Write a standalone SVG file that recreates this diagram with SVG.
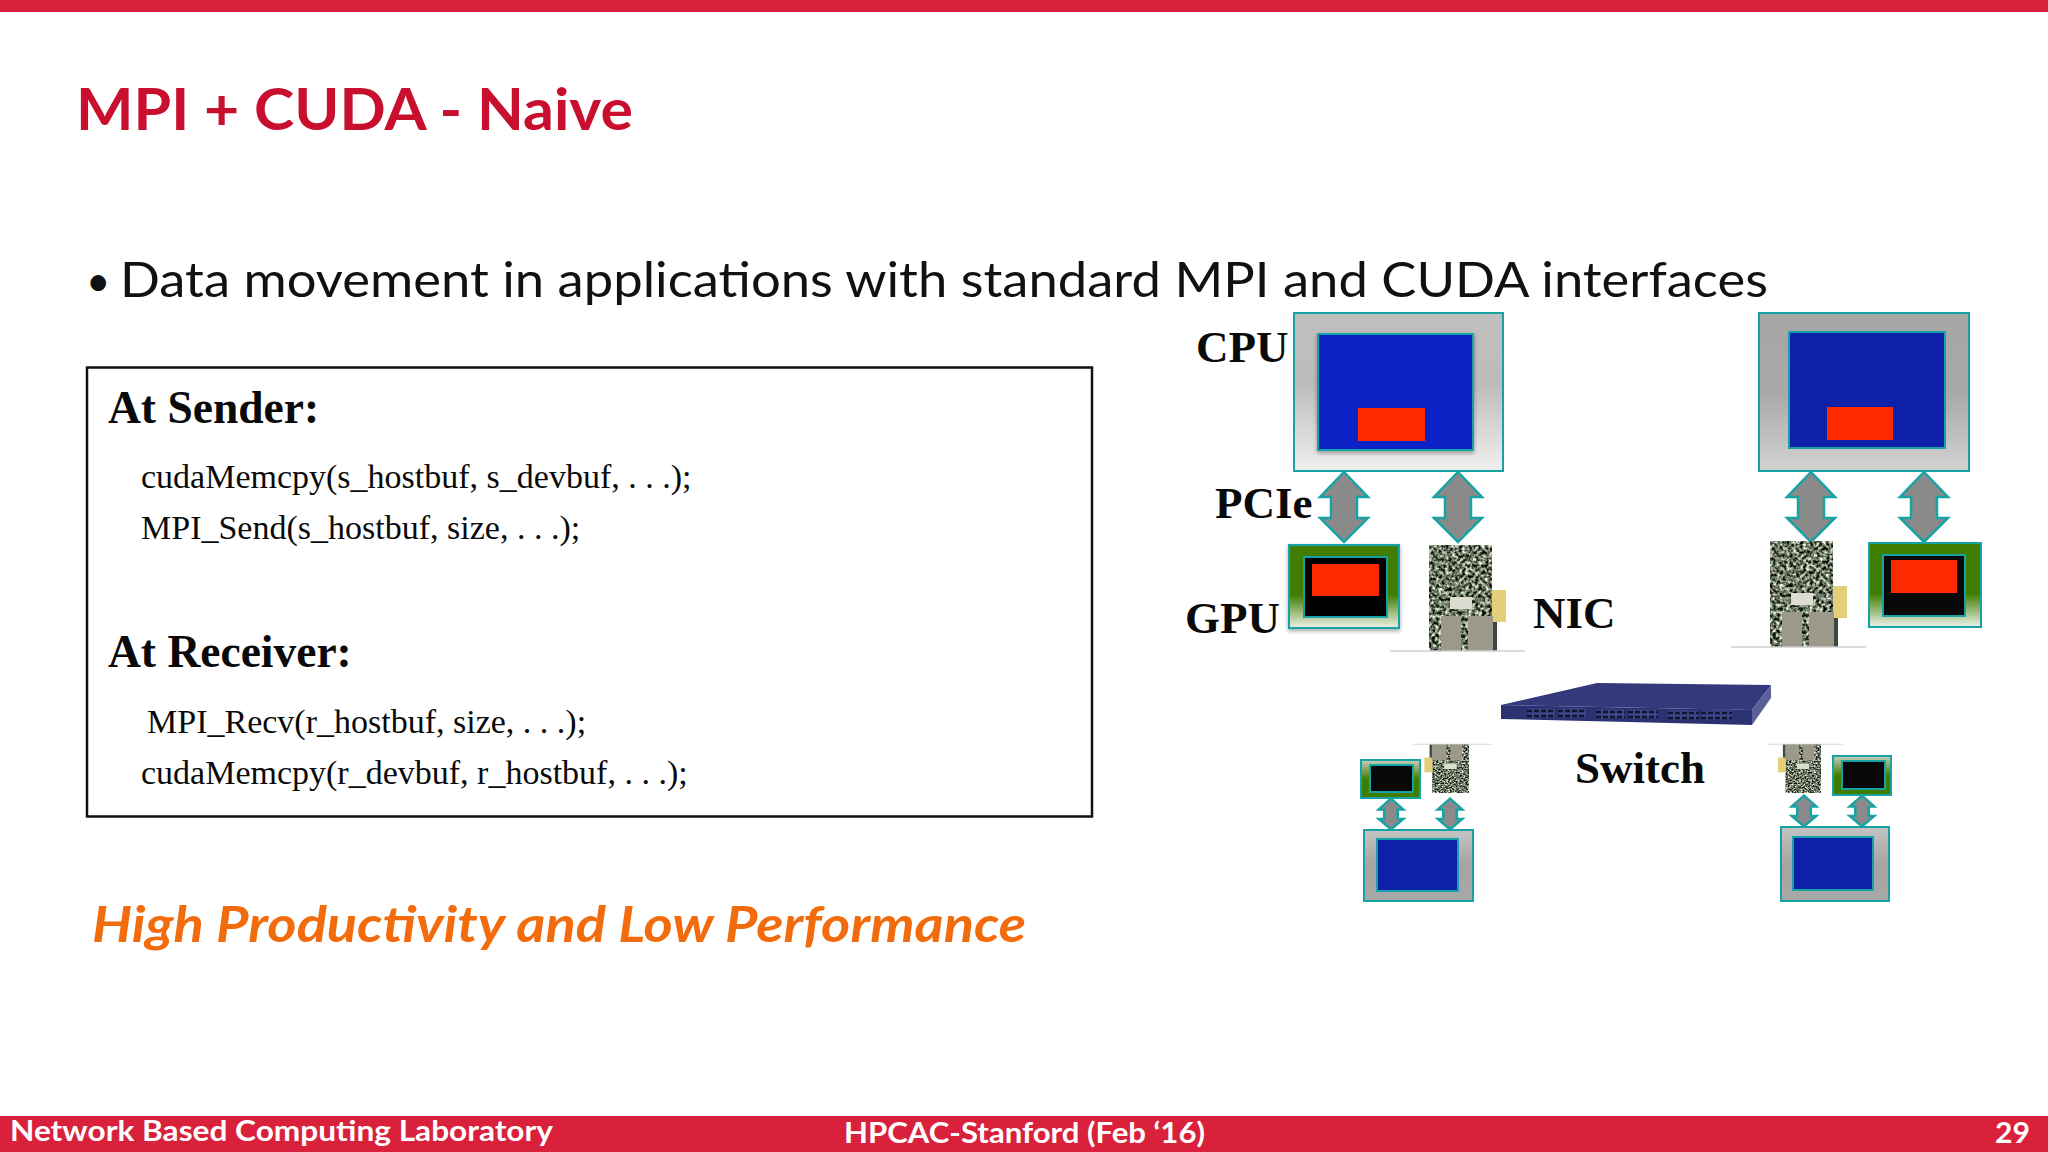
<svg xmlns="http://www.w3.org/2000/svg" width="2048" height="1152" viewBox="0 0 2048 1152">
<style>
.sl{font-family:Lato,"Noto Sans",sans-serif}
.tm{font-family:"Liberation Serif","Times New Roman",serif;fill:#0a0a0a}
.lb{font-weight:700;font-size:45px}
.hd{font-weight:700;font-size:45.5px}
.cd{font-size:34px}
.ft{fill:#fff;font-weight:700;font-size:29px}
.teal{stroke:#17a3a5;stroke-width:2}
.ar{fill:#8a8a8a;stroke:#17a3a5;stroke-width:2.5}
.ars{fill:#8a8a8a;stroke:#17a3a5;stroke-width:5}
.blue{fill:#0a24c4}
.blue2{fill:#0d20a8}
.red{fill:#ff2a00}
</style>
<defs>
<linearGradient id="cpuA" x1="0" y1="0" x2="0" y2="1"><stop offset="0" stop-color="#bfbfbf"/><stop offset=".45" stop-color="#bcbcbc"/><stop offset="1" stop-color="#f0f0f0"/></linearGradient>
<linearGradient id="cpuB" x1="0" y1="0" x2="0" y2="1"><stop offset="0" stop-color="#a6a6a6"/><stop offset=".5" stop-color="#a8a8a8"/><stop offset="1" stop-color="#d2d2d2"/></linearGradient>
<linearGradient id="cpuC" x1="0" y1="0" x2="0" y2="1"><stop offset="0" stop-color="#c4c4c4"/><stop offset=".5" stop-color="#a4a4a4"/><stop offset="1" stop-color="#a8a8a8"/></linearGradient>
<linearGradient id="gpuA" x1="0" y1="0" x2="0" y2="1"><stop offset="0" stop-color="#3f7d00"/><stop offset=".6" stop-color="#3f7d00"/><stop offset="1" stop-color="#eef2ea"/></linearGradient>
<linearGradient id="gpuB" x1="0" y1="0" x2="0" y2="1"><stop offset="0" stop-color="#c8d0c0"/><stop offset=".5" stop-color="#3f7d00"/><stop offset="1" stop-color="#3f7d00"/></linearGradient>
<filter id="pcb" x="0" y="0" width="100%" height="100%" color-interpolation-filters="sRGB"><feTurbulence type="fractalNoise" baseFrequency=".3" numOctaves="2" seed="7"/><feColorMatrix type="matrix" values="2 0 0 0 -.58  2 0 0 0 -.54  1.9 0 0 0 -.56  0 0 0 0 1"/><feComposite in2="SourceGraphic" operator="in"/></filter>
<filter id="soft" x="-10%" y="-10%" width="120%" height="120%"><feGaussianBlur stdDeviation=".6"/></filter>
<filter id="sh" x="-10%" y="-10%" width="120%" height="125%"><feDropShadow dx="0" dy="2" stdDeviation="2" flood-color="#000" flood-opacity=".35"/></filter>
<path id="arrow" d="M0,-35 L24,-10 L13,-10 L13,11 L24,11 L0,35 L-24,11 L-13,11 L-13,-10 L-24,-10Z"/>
<g id="nicArt">
<rect x="0" y="0" width="63" height="106" fill="#4a5448"/>
<rect x="0" y="0" width="63" height="106" fill="#fff" filter="url(#pcb)"/>
<rect x="63" y="45" width="14" height="32" fill="#e3cf7a"/>
<rect x="63" y="77" width="5" height="29" fill="#3d463c"/>
<rect x="21" y="52" width="22" height="12" fill="#dcdcd0"/>
<rect x="12" y="71" width="20" height="35" fill="#9c988a"/>
<rect x="39" y="71" width="25" height="35" fill="#9c988a"/>
<path d="M-39,106 H96" stroke="#cfcfcf" stroke-width="1.5" fill="none"/>
</g>
</defs>
<rect width="2048" height="1152" fill="#fff"/>
<rect width="2048" height="12" fill="#d9213b"/>
<rect y="1116" width="2048" height="36" fill="#d9213b"/>
<text class="sl" x="76" y="130" font-size="58" font-weight="700" fill="#c8102e" textLength="557" lengthAdjust="spacingAndGlyphs">MPI + CUDA - Naive</text>
<text class="sl" x="86" y="296" font-size="42" fill="#111">•</text>
<text class="sl" x="120" y="297" font-size="48" fill="#111" textLength="1648" lengthAdjust="spacingAndGlyphs">Data movement in applications with standard MPI and CUDA interfaces</text>
<g id="code-box">
<rect x="87" y="367.500" width="1005" height="449" fill="#fff" stroke="#111" stroke-width="2.500"/>
<text class="tm hd" x="108" y="423">At Sender:</text>
<text class="tm cd" x="141" y="488">cudaMemcpy(s_hostbuf, s_devbuf, . . .);</text>
<text class="tm cd" x="141" y="539">MPI_Send(s_hostbuf, size, . . .);</text>
<text class="tm hd" x="108" y="667">At Receiver:</text>
<text class="tm cd" x="147" y="733">MPI_Recv(r_hostbuf, size, . . .);</text>
<text class="tm cd" x="141" y="784">cudaMemcpy(r_devbuf, r_hostbuf, . . .);</text>
</g>
<text class="sl" x="92" y="942" font-size="50" font-weight="700" font-style="italic" fill="#f26c0d" textLength="934" lengthAdjust="spacingAndGlyphs">High Productivity and Low Performance</text>
<g id="connectors">
<use href="#arrow" class="ar" transform="translate(1344,507)"/>
<use href="#arrow" class="ar" transform="translate(1458,507)"/>
<use href="#arrow" class="ar" transform="translate(1811,507)"/>
<use href="#arrow" class="ar" transform="translate(1924,507)"/>
<use href="#arrow" class="ars" transform="translate(1391,814) scale(.52,.44)"/>
<use href="#arrow" class="ars" transform="translate(1450,814) scale(.52,.44)"/>
<use href="#arrow" class="ars" transform="translate(1804,811) scale(.52,.44)"/>
<use href="#arrow" class="ars" transform="translate(1862,811) scale(.52,.44)"/>
</g>
<g id="cpu-1"><rect class="teal" x="1294" y="313" width="209" height="158" fill="url(#cpuA)"/><rect class="teal blue" x="1318" y="334" width="155" height="116" filter="url(#sh)"/><rect class="red" x="1358" y="408" width="67" height="33"/></g>
<g id="cpu-2"><rect class="teal" x="1759" y="313" width="210" height="158" fill="url(#cpuB)"/><rect class="teal blue2" x="1789" y="332" width="156" height="116"/><rect class="red" x="1827" y="407" width="66" height="33"/></g>
<g id="cpu-3"><rect class="teal" x="1364" y="830" width="109" height="71" fill="url(#cpuC)"/><rect class="teal blue2" x="1377" y="839" width="81" height="52"/></g>
<g id="cpu-4"><rect class="teal" x="1781" y="827" width="108" height="74" fill="url(#cpuC)"/><rect class="teal blue2" x="1793" y="837" width="80" height="53"/></g>
<g id="gpu-1"><rect class="teal" x="1289" y="545" width="110" height="83" fill="url(#gpuA)" filter="url(#sh)"/><rect class="teal" x="1304" y="557" width="83" height="60" fill="#000"/><rect class="red" x="1312" y="564" width="67" height="32"/></g>
<g id="gpu-2"><rect class="teal" x="1869" y="543" width="112" height="84" fill="url(#gpuA)"/><rect class="teal" x="1883" y="555" width="82" height="61" fill="#080808"/><rect class="red" x="1891" y="560" width="66" height="33"/></g>
<g id="gpu-3"><rect class="teal" x="1361" y="760" width="59" height="38" fill="url(#gpuB)"/><rect class="teal" x="1370" y="765" width="43" height="27" fill="#080808"/></g>
<g id="gpu-4"><rect class="teal" x="1833" y="756" width="58" height="39" fill="url(#gpuB)"/><rect class="teal" x="1842" y="761" width="43" height="28" fill="#080808"/></g>
<g id="nic-1"><use href="#nicArt" transform="translate(1429,545)" filter="url(#soft)"/></g>
<g id="nic-2"><use href="#nicArt" transform="translate(1770,541)" filter="url(#soft)"/></g>
<g id="nic-3"><use href="#nicArt" transform="translate(1469,793) scale(-.58,-.46)" filter="url(#soft)"/></g>
<g id="nic-4"><use href="#nicArt" transform="translate(1821,793) scale(-.56,-.46)" filter="url(#soft)"/></g>
<g id="switch">
<path d="M1597,683 L1771,685 L1752,710 L1501,705Z" fill="#34397c"/>
<path d="M1752,710 L1771,685 L1771,698 L1752,725Z" fill="#5a5f98"/>
<path d="M1501,705 L1752,710 L1752,725 L1501,719Z" fill="#2a3272"/>
<g fill="#3e4488" stroke="#2a3272" stroke-width="1"><rect x="1527" y="708" width="28" height="10"/><rect x="1558" y="708" width="28" height="10"/><rect x="1596" y="709" width="29" height="10"/><rect x="1628" y="709" width="30" height="10"/><rect x="1668" y="710" width="31" height="10"/><rect x="1701" y="710" width="31" height="10"/></g>
<path d="M1527,711H1555M1558,711H1586M1596,712H1625M1628,712H1658M1668,713H1699M1701,713H1732M1527,716H1555M1558,716H1586M1596,717H1625M1628,717H1658M1668,718H1699M1701,718H1732" stroke="#10142c" stroke-width="2.500" stroke-dasharray="5 2" fill="none"/>
</g>
<text class="tm lb" x="1196" y="362">CPU</text>
<text class="tm lb" x="1215" y="518">PCIe</text>
<text class="tm lb" x="1185" y="633">GPU</text>
<text class="tm lb" x="1533" y="628">NIC</text>
<text class="tm lb" x="1575" y="783">Switch</text>
<text class="sl ft" x="10" y="1141" textLength="543" lengthAdjust="spacingAndGlyphs">Network Based Computing Laboratory</text>
<text class="sl ft" x="844" y="1143" textLength="361" lengthAdjust="spacingAndGlyphs">HPCAC-Stanford (Feb ‘16)</text>
<text class="sl ft" x="1995" y="1143" textLength="35" lengthAdjust="spacingAndGlyphs">29</text>
</svg>
